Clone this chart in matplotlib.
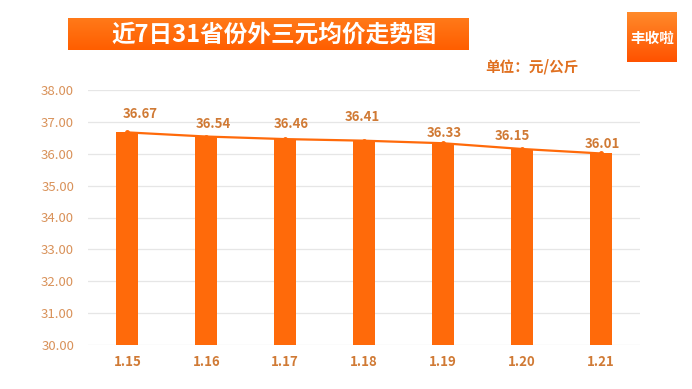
import matplotlib.pyplot as plt
import numpy as np
from matplotlib.colors import LinearSegmentedColormap

plt.rcParams['font.family'] = ['Noto Sans CJK SC', 'DejaVu Sans']

dates = ['1.15', '1.16', '1.17', '1.18', '1.19', '1.20', '1.21']
prices = [36.67, 36.54, 36.46, 36.41, 36.33, 36.15, 36.01]
y_ticks = [30, 31, 32, 33, 34, 35, 36, 37, 38]
# label offsets (points) for each value label
label_dx = [9, 5, 4, -1, 1, -7, 1]
label_dy = [8, 4, 6, 12, 2, 4, 2]

orange = '#FF6A0A'
tick_col = '#D9925A'
lab_col = '#D07A35'


def gradient_box(fig, x, y, w, h, c1, c2):
    ax = fig.add_axes([x, y, w, h])
    grad = np.linspace(0, 1, 100).reshape(-1, 1)
    cmap = LinearSegmentedColormap.from_list('g', [c1, c2])
    ax.imshow(grad, aspect='auto', cmap=cmap, extent=[0, 1, 0, 1], origin='upper')
    ax.set_axis_off()
    return ax


fig = plt.figure(figsize=(6.92, 3.89), dpi=100)
W, H = 692, 389

ax = fig.add_axes([88 / W, 1 - 345 / H, (640 - 88) / W, (345 - 90) / H])
x = np.arange(len(dates))
ax.bar(x, [p - 30 for p in prices], bottom=30, width=0.28, color=orange, zorder=2)
ax.plot(x, prices, color=orange, lw=1.6, marker='o', ms=2.5, zorder=3)

for i, p in enumerate(prices):
    ax.annotate(f'{p:.2f}', (i, p), xytext=(label_dx[i], label_dy[i]),
                textcoords='offset points', ha='center', va='bottom',
                fontsize=9.5, fontweight='bold', color=lab_col, zorder=4)

ax.set_xlim(-0.5, len(dates) - 0.5)
ax.set_ylim(30, 38)
ax.set_yticks(y_ticks)
ax.set_yticklabels([f'{v:.2f}' for v in y_ticks], color=tick_col, fontsize=9.5)
ax.set_xticks(x)
ax.set_xticklabels(dates, color=lab_col, fontsize=9.5, fontweight='bold')
ax.tick_params(length=0, pad=10)
ax.tick_params(axis='x', pad=7)
ax.grid(axis='y', color='#E6E6E6', lw=0.9, zorder=0)
for s in ax.spines.values():
    s.set_visible(False)

# title box
gradient_box(fig, 68 / W, 1 - 50 / H, (469 - 68) / W, 32 / H, '#FF7A1A', '#FF5E00')
fig.text(274 / W, 1 - 35 / H, '近7日31省份外三元均价走势图', ha='center', va='center',
         color='white', fontsize=17, fontweight='bold')

# logo box
gradient_box(fig, 627 / W, 1 - 62 / H, 50 / W, 50 / H, '#FF8A2A', '#FF5200')
fig.text(652 / W, 1 - 38 / H, '丰收啦', ha='center', va='center',
         color='white', fontsize=10.5, fontweight='bold')

fig.text(532 / W, 1 - 67 / H, '单位：元/公斤', ha='center', va='center',
         color='#E07020', fontsize=10.5, fontweight='bold')

fig.savefig('out.png', dpi=100)
